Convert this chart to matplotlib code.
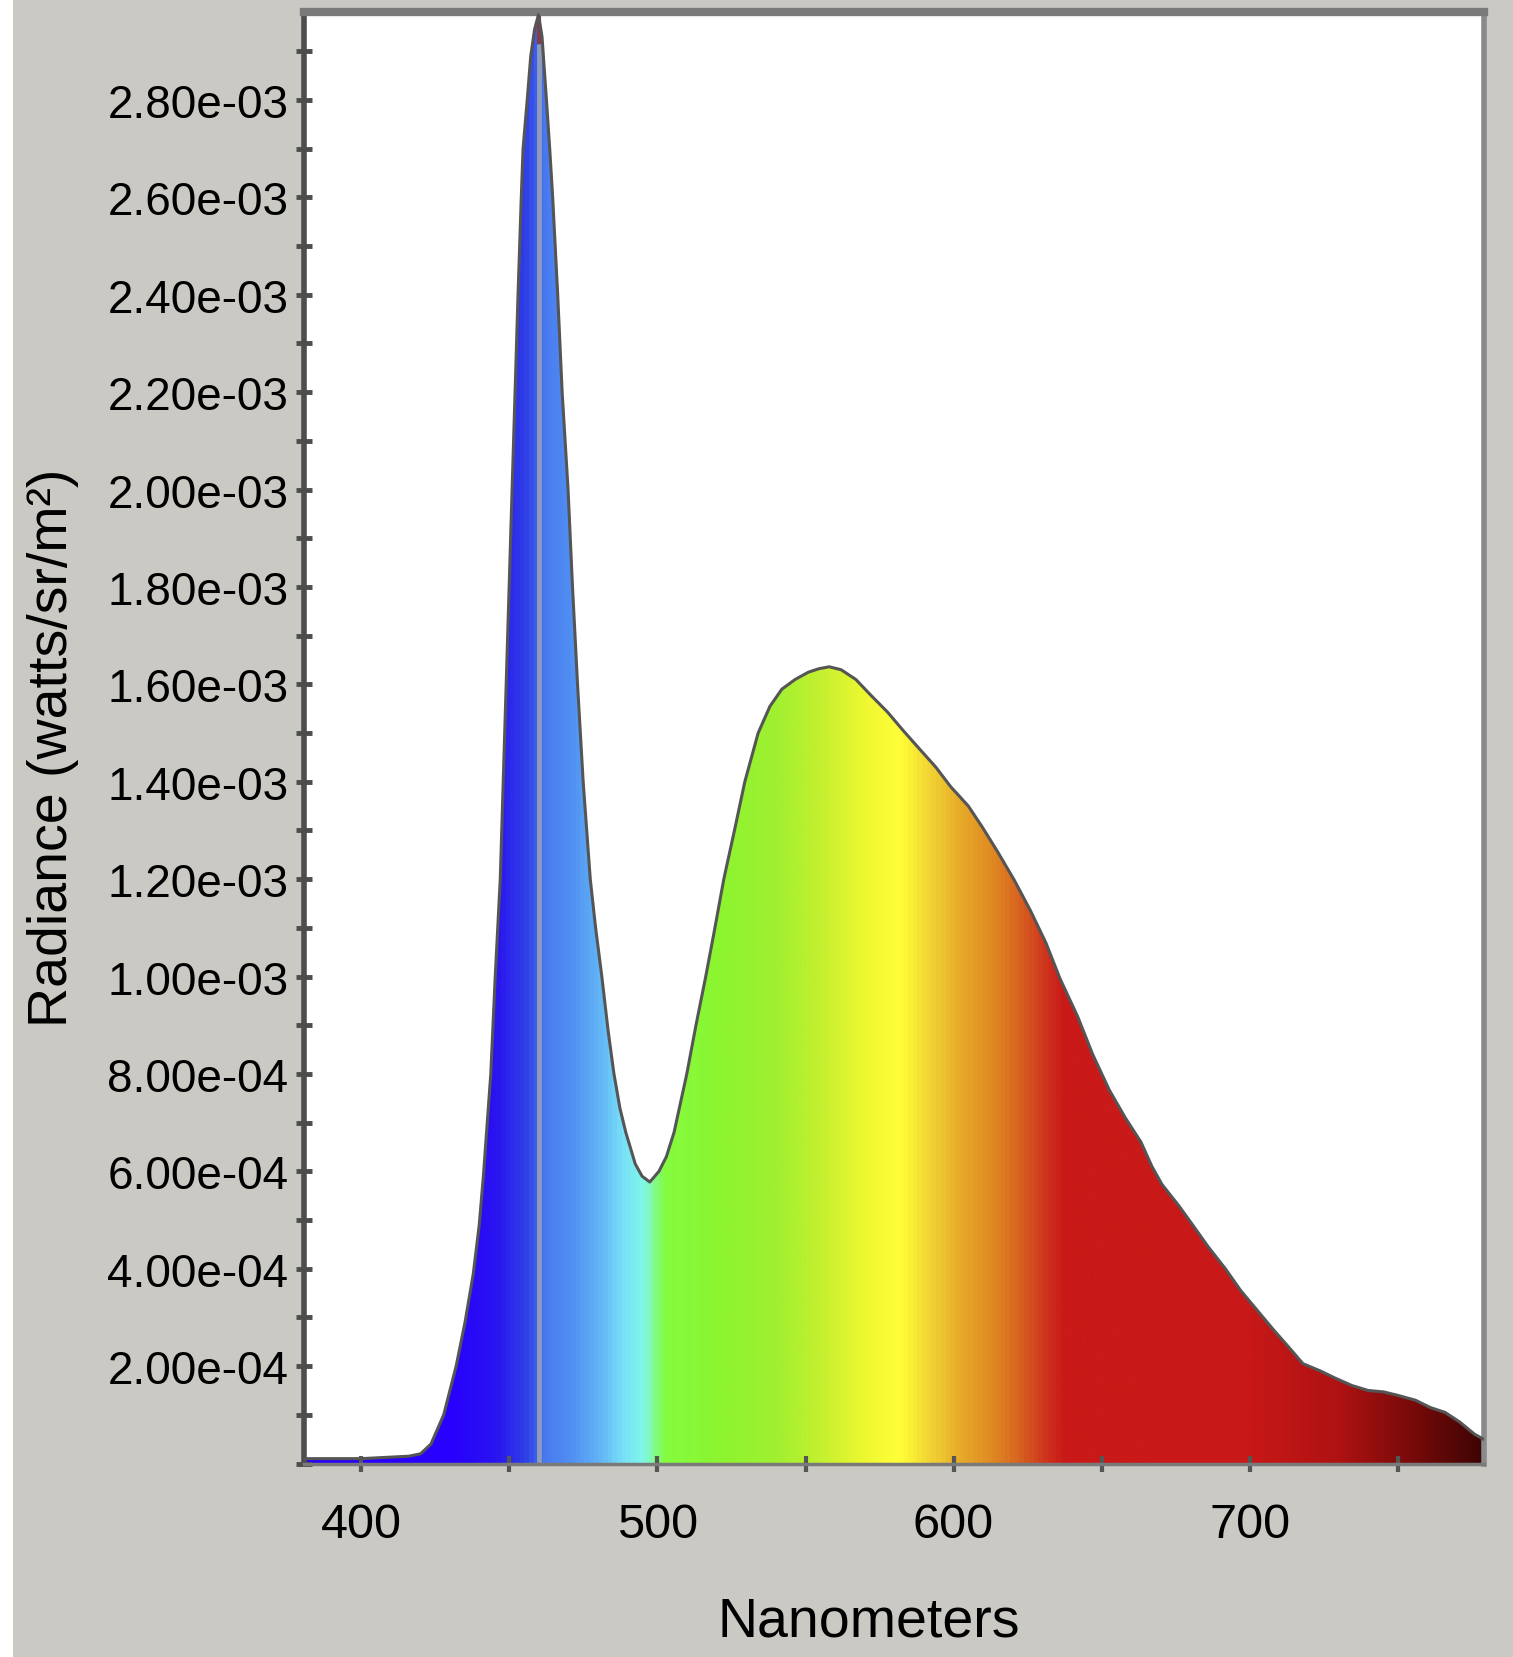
import numpy as np
import matplotlib
matplotlib.use("Agg")
import matplotlib.pyplot as plt
from matplotlib.colors import LinearSegmentedColormap
from matplotlib.patches import Polygon, Rectangle
from matplotlib.ticker import MultipleLocator, FuncFormatter

plt.rcParams['font.family'] = ['Liberation Sans', 'DejaVu Sans']

# spectrum (nm, radiance in 1e-3 W/sr/m2)
wavelength = [381, 400, 416, 420, 423.5, 427.8, 432, 435, 437.8, 439.8, 441.2, 443.7,
              445.2, 446.9, 447.9, 448.9, 449.9, 450.9, 451.9, 452.9, 454.0, 454.6, 456.0,
              457.2, 458.5, 459.8, 461, 462.5, 463.6, 464.6, 466.3, 467.8, 469.8, 471.3,
              473, 474.9, 477.3, 479.1, 481.2, 483.3, 485.3, 487.3, 489.3, 492.5, 494.8,
              497.4, 500.5, 503, 505.6, 509.9, 513, 516.3, 519.4, 522.4, 526, 529.5, 534,
              538, 542, 546.5, 551, 554.5, 558, 562, 567, 572, 577.7, 583, 588.4, 594, 599,
              605, 609.8, 615, 620.5, 626, 631.2, 636, 641.9, 647, 652.6, 658, 663.3,
              667, 670.4, 676, 681.1, 686, 691.8, 697, 702.5, 708, 713.2, 718, 723.9,
              729, 734.6, 740, 745.3, 750, 756, 761, 766, 771, 776, 779]
radiance = [0.01, 0.01, 0.015, 0.02, 0.04, 0.10, 0.20, 0.29, 0.39, 0.49, 0.59, 0.80,
            1.00, 1.20, 1.40, 1.60, 1.80, 2.00, 2.20, 2.40, 2.60, 2.70, 2.80,
            2.89, 2.945, 2.975, 2.93, 2.80, 2.70, 2.60, 2.40, 2.20, 2.00, 1.80,
            1.60, 1.40, 1.20, 1.10, 1.00, 0.89, 0.80, 0.73, 0.68, 0.615, 0.59,
            0.578, 0.60, 0.63, 0.68, 0.80, 0.90, 1.00, 1.10, 1.20, 1.30, 1.40, 1.50,
            1.555, 1.59, 1.61, 1.625, 1.632, 1.636, 1.63, 1.61, 1.578, 1.543, 1.505, 1.468,
            1.43, 1.39, 1.35, 1.306, 1.255, 1.198, 1.135, 1.069, 0.995, 0.918, 0.84, 0.767,
            0.71, 0.66, 0.61, 0.573, 0.53, 0.487, 0.445, 0.40, 0.355, 0.315, 0.275, 0.239,
            0.205, 0.19, 0.175, 0.16, 0.15, 0.147, 0.14, 0.13, 0.115, 0.105, 0.085, 0.06,
            0.05]
peak_nm = 460

# colour stops of the spectrum fill
stop_nm = [380, 430, 445, 455, 462, 470, 480, 488, 495, 502, 520, 540, 555, 570, 582,
           592, 603, 613, 622, 630, 637, 700, 730, 755, 780]
stop_col = ['#2a00ff', '#2800ff', '#2a14f0', '#2f40e6', '#4a7cf0', '#4f8ef2', '#62b4f6',
            '#78e0f8', '#80f8e8', '#84fc40', '#8cf530', '#a0f030', '#c4f030', '#eef830',
            '#ffff38', '#f2d434', '#e6a828', '#e08a22', '#d86420', '#d03a1e', '#ca1a18',
            '#c81818', '#b01212', '#7a0a0a', '#3c0404']

wl = np.array(wavelength)
rad = np.array(radiance) * 1e-3
xmin, xmax = 380.7, 779.3
ymin, ymax = 0.0, 2.98e-3

fig = plt.figure(figsize=(15.13, 16.58), dpi=100)
fig.patch.set_facecolor('#cbc9c4')
fig.patches.append(Rectangle((0, 0), 0.0084, 1, transform=fig.transFigure,
                             facecolor='white', edgecolor='none'))
ax = fig.add_axes([0.2011, 0.1167, 0.78, 0.8753])
ax.set_facecolor('white')

pos = [(w - stop_nm[0]) / (stop_nm[-1] - stop_nm[0]) for w in stop_nm]
cmap = LinearSegmentedColormap.from_list('spec', list(zip(pos, stop_col)))
grad = np.linspace(stop_nm[0], stop_nm[-1], 1200).reshape(1, -1)
img = ax.imshow(grad, extent=[stop_nm[0], stop_nm[-1], 0, ymax], aspect='auto',
                cmap=cmap, vmin=stop_nm[0], vmax=stop_nm[-1], origin='lower',
                interpolation='bilinear', zorder=1)
verts = np.column_stack([np.concatenate([wl, wl[::-1]]),
                         np.concatenate([rad, np.zeros_like(rad)])])
clip = Polygon(verts, closed=True, facecolor='none', edgecolor='none',
               transform=ax.transData)
ax.add_patch(clip)
img.set_clip_path(clip)

ax.vlines(peak_nm, 0, rad.max() * 0.98, color='#8e9cba', lw=3.5, zorder=2)
ax.vlines(peak_nm, rad.max() * 0.98, ymax, color='#8a3a40', lw=3, zorder=2)
ax.plot(wl, rad, color='#555555', lw=2.2, zorder=3)

ax.set_xlim(xmin, xmax)
ax.set_ylim(ymin, ymax)

ax.xaxis.set_major_locator(MultipleLocator(100))
ax.xaxis.set_minor_locator(MultipleLocator(50))
ax.yaxis.set_major_locator(MultipleLocator(2e-4))
ax.yaxis.set_minor_locator(MultipleLocator(1e-4))
ax.yaxis.set_major_formatter(FuncFormatter(lambda v, p: '' if v <= 0 else '%.2e' % v))

ax.tick_params(axis='x', which='both', direction='inout', length=12, width=3,
               color='#555555', labelsize=35, pad=22)
ax.tick_params(axis='y', which='both', direction='inout', length=11, width=3.5,
               color='#4d4d4d', labelsize=33, pad=6)

ax.spines['top'].set_color('#7a7a7a')
ax.spines['top'].set_linewidth(6)
ax.spines['left'].set_color('#4d4d4d')
ax.spines['left'].set_linewidth(4)
ax.spines['right'].set_color('#8a8a8a')
ax.spines['right'].set_linewidth(4)
ax.spines['bottom'].set_color('#7a7a7a')
ax.spines['bottom'].set_linewidth(2.5)

fig.text(0.0349, 0.549, 'Radiance (watts/sr/m²)', rotation=90, ha='center',
         va='center', fontsize=40)
fig.text(0.574, 0.0128, 'Nanometers', ha='center', va='baseline', fontsize=40)

fig.savefig('out.png', dpi=100, facecolor=fig.get_facecolor())
